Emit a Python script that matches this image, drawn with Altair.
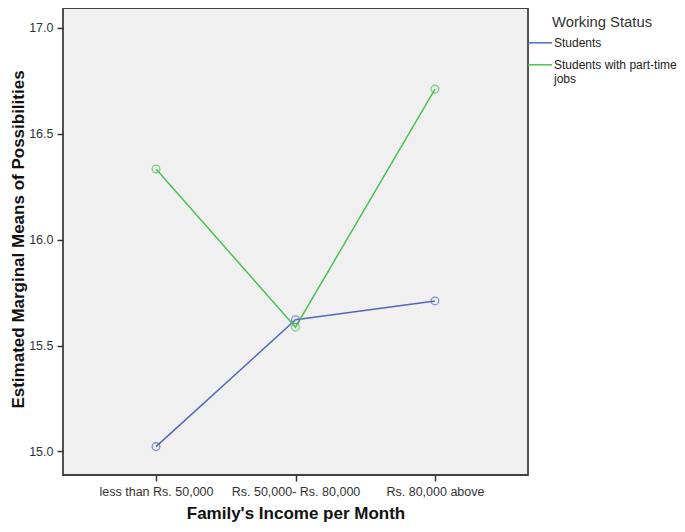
import altair as alt
import pandas as pd

categories = ["less than Rs. 50,000", "Rs. 50,000- Rs. 80,000", "Rs. 80,000 above"]
groups = ["Students", "Students with part-time jobs"]
students = [15.023, 15.622, 15.711]
part_time = [16.334, 15.587, 16.711]

rows = []
for c, v in zip(categories, students):
    rows.append({"income": c, "status": groups[0], "mean": v})
for c, v in zip(categories, part_time):
    rows.append({"income": c, "status": groups[1], "mean": v})
df = pd.DataFrame(rows)

FONT = "Liberation Sans"
colors = ["#5468bb", "#4cc152"]

x = alt.X("income:N", sort=categories, scale=alt.Scale(type="point", padding=0.667),
          axis=alt.Axis(title="Family's Income per Month", labelAngle=0, tickSize=6,
                        tickColor="#333333", tickWidth=1.5, domain=False,
                        labelFont=FONT, labelFontSize=12.5, labelColor="#333333", labelPadding=4,
                        titleFont=FONT, titleFontSize=17, titleFontWeight="bold", titleColor="#111111",
                        titleX=232.5, titleY=38, titleBaseline="middle", titleAlign="center"))
y = alt.Y("mean:Q", scale=alt.Scale(domain=[14.889, 17.094], nice=False, zero=False),
          axis=alt.Axis(title="Estimated Marginal Means of Possibilities",
                        values=[15.0, 15.5, 16.0, 16.5, 17.0], format=".1f", grid=False,
                        tickSize=6, tickColor="#333333", tickWidth=1.5, domain=False,
                        labelFont=FONT, labelFontSize=12.5, labelColor="#333333", labelPadding=4,
                        titleFont=FONT, titleFontSize=17, titleFontWeight="bold", titleColor="#111111",
                        titleX=-45, titleY=231, titleAngle=270, titleBaseline="middle", titleAlign="center"))
color = alt.Color("status:N", scale=alt.Scale(domain=groups, range=colors),
                  legend=alt.Legend(title="Working Status", orient="none", legendX=464, legendY=7,
                                    symbolType="stroke", symbolSize=576, symbolStrokeWidth=1.5,
                                    labelFont=FONT, labelFontSize=12, labelColor="#222222", labelOffset=1,
                                    labelExpr="datum.label == 'Students with part-time jobs' ? ['Students with part-time', 'jobs'] : datum.label",
                                    titleFont=FONT, titleFontSize=14.8, titleFontWeight="normal", titleColor="#333333",
                                    titleAnchor="middle", titlePadding=0, rowPadding=3, padding=0))

lines = alt.Chart(df).mark_line(strokeWidth=1.5).encode(x=x, y=y, color=color)
points = alt.Chart(df).mark_point(shape="circle", filled=False, size=60, strokeWidth=1.3).encode(
    x=x, y=y, color=alt.Color("status:N", scale=alt.Scale(domain=groups, range=colors), legend=None))

chart = alt.layer(lines, points).properties(
    width=465, height=467,
    autosize=alt.AutoSizeParams(type="none"),
    padding={"left": 55, "top": 0, "right": 149, "bottom": 49},
    background="white",
).configure_view(fill="#f0f0f0", stroke="#404040", strokeWidth=1.8)

chart.save("out.html", embed_options={"renderer": "svg", "actions": False})
